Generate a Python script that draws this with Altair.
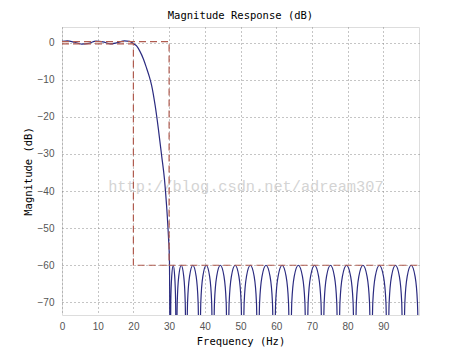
import altair as alt
import pandas as pd

# Blue curve: magnitude response (dB)
resp_freq = [
    0.0, 1.5, 3.5, 5.5, 7.5, 9.5, 11.5, 13.5, 15.5, 17.5, 19.0, 20.0,
    21.0, 21.8, 22.8, 23.7, 24.5, 25.1, 26.1, 27.0, 27.9, 28.7, 29.3, 29.8, 30.1, 30.3,
    30.47, 30.73, 31.15, 31.57, 31.83, 32.0,
    32.28, 32.7, 33.4, 34.1, 34.52, 34.8,
    35.17, 35.73, 36.65, 37.58, 38.13, 38.5,
    38.88, 39.45, 40.4, 41.35, 41.92, 42.3,
    42.71, 43.33, 44.35, 45.38, 45.99, 46.4,
    46.82, 47.45, 48.5, 49.55, 50.18, 50.6,
    51.03, 51.68, 52.75, 53.83, 54.47, 54.9,
    55.35, 56.03, 57.15, 58.28, 58.95, 59.4,
    59.85, 60.53, 61.65, 62.78, 63.45, 63.9,
    64.36, 65.05, 66.2, 67.35, 68.04, 68.5,
    68.95, 69.63, 70.75, 71.88, 72.55, 73.0,
    73.44, 74.1, 75.2, 76.3, 76.96, 77.4,
    77.86, 78.55, 79.7, 80.85, 81.54, 82.0,
    82.46, 83.15, 84.3, 85.45, 86.14, 86.6,
    87.06, 87.75, 88.9, 90.05, 90.74, 91.2,
    91.64, 92.3, 93.4, 94.5, 95.16, 95.6,
    96.04, 96.7, 97.8, 98.9, 99.56, 100.0,
]
resp_mag = [
    0.3, 0.45, 0.1, -0.4, -0.2, 0.4, 0.2, -0.35, 0.0, 0.45, 0.35, -0.3,
    -1.0, -2.3, -4.4, -6.9, -9.3, -11.5, -17.0, -23.3, -30.4, -36.8, -44.0, -52.0, -59.0, -90.0,
    -70, -63, -60, -63, -70, -90,
    -70, -63, -60, -63, -70, -90,
    -70, -63, -60, -63, -70, -90,
    -70, -63, -60, -63, -70, -90,
    -70, -63, -60, -63, -70, -90,
    -70, -63, -60, -63, -70, -90,
    -70, -63, -60, -63, -70, -90,
    -70, -63, -60, -63, -70, -90,
    -70, -63, -60, -63, -70, -90,
    -70, -63, -60, -63, -70, -90,
    -70, -63, -60, -63, -70, -90,
    -70, -63, -60, -63, -70, -90,
    -70, -63, -60, -63, -70, -90,
    -70, -63, -60, -63, -70, -90,
    -70, -63, -60, -63, -70, -90,
    -70, -63, -60, -63, -70, -90,
    -70, -63, -60, -63, -70, -90,
]

# Red dashed specification mask
mask_upper_freq = [0, 30, 30, 100]
mask_upper_mag = [0.25, 0.25, -60, -60]
mask_lower_freq = [0, 20, 20, 30]
mask_lower_mag = [-0.35, -0.35, -60, -60]

x_ticks = [0, 10, 20, 30, 40, 50, 60, 70, 80, 90]
y_ticks = [0, -10, -20, -30, -40, -50, -60, -70]
x_domain = [0, 100]
y_domain = [-73.4, 4.2]

watermark_text = ["http://blog.csdn.net/adream307"]
watermark_freq = [51.5]
watermark_mag = [-38.6]

resp = pd.DataFrame({"f": resp_freq, "m": resp_mag, "i": range(len(resp_freq))})
mask = pd.DataFrame({
    "f": mask_upper_freq + mask_lower_freq,
    "m": mask_upper_mag + mask_lower_mag,
    "seg": ["u"] * len(mask_upper_freq) + ["l"] * len(mask_lower_freq),
    "i": list(range(len(mask_upper_freq))) + list(range(len(mask_lower_freq))),
})
wm = pd.DataFrame({"t": watermark_text, "f": watermark_freq, "m": watermark_mag})

tick_font = "Liberation Sans"
title_font = "DejaVu Sans Mono"

x_enc = alt.X(
    "f:Q",
    scale=alt.Scale(domain=x_domain, nice=False, zero=False),
    axis=alt.Axis(
        values=x_ticks, title="Frequency (Hz)", grid=True, gridDash=[1, 3],
        gridColor="#8a8a8a", gridOpacity=1, domain=False, ticks=False,
        labelOverlap=False, labelFlush=False,
        labelPadding=6, labelFont=tick_font, labelFontSize=10, labelColor="#555",
        titleFont=title_font, titleFontSize=10.5, titleFontWeight="normal",
        titleColor="#000", titlePadding=5,
    ),
)
y_enc = alt.Y(
    "m:Q",
    scale=alt.Scale(domain=y_domain, nice=False, zero=False),
    axis=alt.Axis(
        values=y_ticks, title="Magnitude (dB)", grid=True, gridDash=[1, 3],
        gridColor="#8a8a8a", gridOpacity=1, domain=False, ticks=False,
        labelOverlap=False, labelFlush=False,
        labelPadding=8, labelFont=tick_font, labelFontSize=10, labelColor="#555",
        titleFont=title_font, titleFontSize=10.5, titleFontWeight="normal",
        titleColor="#000", titlePadding=4,
    ),
)

watermark = alt.Chart(wm).mark_text(
    font="Liberation Mono", fontSize=15.3, color="#d4d4d4", align="center", baseline="middle"
).encode(x=x_enc, y=y_enc, text="t:N")

line = alt.Chart(resp).mark_line(
    color="#2b2b80", strokeWidth=1.2, interpolate="monotone", clip=True
).encode(x=x_enc, y=y_enc, order="i:Q")

mask_line = alt.Chart(mask).mark_line(
    color="#b05c50", strokeWidth=1.2, strokeDash=[7, 4], clip=True
).encode(x=x_enc, y=y_enc, detail="seg:N", order="i:Q")

chart = alt.layer(watermark, line, mask_line).properties(
    width=357,
    height=288,
    title=alt.TitleParams("Magnitude Response (dB)", font=title_font, fontSize=10.5,
                          fontWeight="normal", color="#000", anchor="middle", offset=6),
    padding={"left": 62, "top": 27, "right": 55, "bottom": 40},
    autosize=alt.AutoSizeParams(type="none"),
).configure_view(stroke="#555", strokeWidth=1).configure(background="white")

chart.save("out.html", embed_options={"renderer": "svg", "actions": False})
